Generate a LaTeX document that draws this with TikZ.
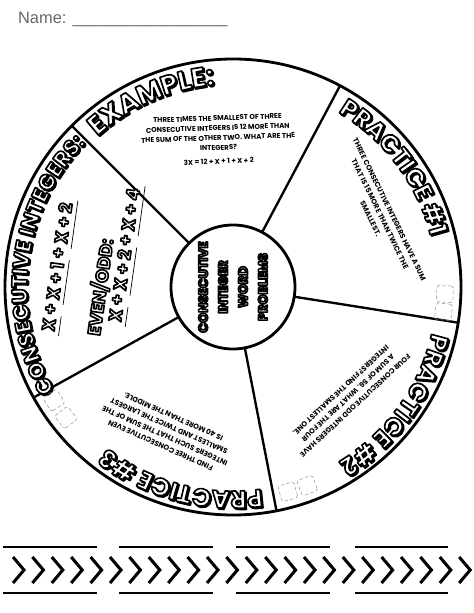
\documentclass[tikz,border=0pt]{standalone}
\usepackage{fontspec}
\setmainfont{Liberation Sans}
\newfontfamily\bubblefont{Poppins}
\usetikzlibrary{decorations.text,positioning}
% hollow letters: white fill, black stroke; shadow letters: black, thickened
\newcommand\hollow{\color{white}\special{pdf:literal direct 2 Tr 0 G 1.4 w 1 j}}
\newcommand\shadowink{\color{black}\special{pdf:literal direct 2 Tr 0 G 1.4 w 1 j}}
\newcommand\titlefont{\bubblefont\bfseries\fontsize{21}{21}\selectfont}
% font, text, from angle, to angle, radius
\newcommand\rimtitle[5]{%
  \path[shift={(1.4,-1.4)},decorate,decoration={text along path,text={|#1\shadowink|#2}}]
    (#3:#5) arc[start angle=#3,end angle=#4,radius=#5];
  \path[decorate,decoration={text along path,text={|#1\hollow|#2}}]
    (#3:#5) arc[start angle=#3,end angle=#4,radius=#5];}
\tikzset{
  rim/.style={line width=2.4pt},
  spoke/.style={line width=2pt},
  tiny/.style={font=\bubblefont\bfseries\fontsize{6}{8.4}\selectfont, align=center, inner sep=0pt},
  task/.style={font=\bubblefont\bfseries\fontsize{6.2}{9}\selectfont, align=center, inner sep=0pt},
  sum/.style={font=\bubblefont\bfseries\fontsize{15}{15}\selectfont\hollow, inner sep=1pt},
  tickbox/.style={draw=black!45, densely dashed, rounded corners=1.5pt, minimum size=14pt, inner sep=0pt},
  chev/.style={line width=2.6pt},
  band/.style={line width=1.6pt}
}
\begin{document}
\begin{tikzpicture}[x=0.03cm,y=0.03cm]
  \useasboundingbox (-233,-326) rectangle (241,287);
  % name line
  \node[anchor=west, text=black!60, font=\fontsize{14}{14}\selectfont] (name) at (-219,268)
    {Name: \_\_\_\_\_\_\_\_\_\_\_\_\_\_\_\_\_};
  % wheel
  \draw[rim] (0,0) circle (228);
  \draw[rim] (0,0) circle (62);
  \foreach \a in {135,62,-9,-79,-151}
    \draw[spoke] (\a:62) -- (\a:228);
  % titles round the rim
  \rimtitle{\bubblefont\bfseries\fontsize{18.5}{18.5}\selectfont}{CONSECUTIVE INTEGERS:}{210}{133}{206}
  \rimtitle{\bubblefont\bfseries\fontsize{23}{23}\selectfont}{EXAMPLE:}{132}{63}{203}
  \rimtitle{\titlefont}{PRACTICE {\#}1}{59}{-8}{204}
  \rimtitle{\titlefont}{PRACTICE {\#}2}{-13}{-78}{204}
  \rimtitle{\titlefont}{PRACTICE {\#}3}{-82}{-150}{204}
  % centre
  \node[rotate=90, align=center, font=\bubblefont\bfseries\fontsize{11}{17}\selectfont\hollow] (hub) at (0,0)
    {CONSECUTIVE\\INTEGER\\WORD\\PROBLEMS};
  % example
  \node[tiny, rotate=2] (extext) at (-15,154)
    {THREE TIMES THE SMALLEST OF THREE\\CONSECUTIVE INTEGERS IS 12 MORE THAN\\THE SUM OF THE OTHER TWO. WHAT ARE THE\\INTEGERS?};
  \node[tiny, rotate=2, below=8 of extext] (exeq) {3X = 12 + X + 1 + X + 2};
  % practice 1
  \node[task, rotate=-64] (pone) at (147,73)
    {THREE CONSECUTIVE INTEGERS HAVE A SUM\\THAT IS 15 MORE THAN TWICE THE\\SMALLEST.};
  % practice 2
  \node[task, rotate=-137] (ptwo) at (115,-111)
    {FOUR CONSECUTIVE ODD INTEGERS HAVE\\A SUM OF 56. WHAT ARE THE FOUR\\INTEGERS? FIND THE SMALLEST ONE.};
  % practice 3
  \node[task, rotate=156] (pthree) at (-66,-144)
    {FIND THREE CONSECUTIVE EVEN\\INTEGERS SUCH THAT THE SUM OF THE\\SMALLEST AND TWICE THE LARGEST\\IS 40 MORE THAN THE MIDDLE.};
  % boxes to tick
  \foreach \a in {-6.7,-1.9,-75,-69.5,-147.7,-142}
    \node[tickbox, rotate=\a] at (\a:212) {};
  % consecutive integers
  \begin{scope}[shift={(-178,6)}, rotate=82, transform shape, node distance=1pt]
    \node[sum] (a2) {X + 1};
    \node[sum, left=of a2] (p1) {+};
    \node[sum, left=of p1] (a1) {X};
    \node[sum, right=of a2] (p2) {+};
    \node[sum, right=of p2] (a3) {X + 2};
    \foreach \t in {a1,a2,a3}
      \draw[semithick] ([xshift=-2,yshift=-3]\t.south west) -- ([xshift=2,yshift=-3]\t.south east);
  \end{scope}
  \node[sum, rotate=82] (eo) at (-133,0) {EVEN/ODD:};
  \begin{scope}[shift={(-111,17)}, rotate=82, transform shape, node distance=1pt]
    \node[sum] (b2) {X + 2};
    \node[sum, left=of b2] (q1) {+};
    \node[sum, left=of q1] (b1) {X};
    \node[sum, right=of b2] (q2) {+};
    \node[sum, right=of q2] (b3) {X + 4};
    \foreach \t in {b1,b2,b3}
      \draw[semithick] ([xshift=-2,yshift=-3]\t.south west) -- ([xshift=2,yshift=-3]\t.south east);
  \end{scope}
  % band at the foot
  \foreach \x/\y in {-230/-136,-114/-20,3/97,122/215} {
    \draw[band] (\x,-260) -- (\y,-260);
    \draw[band] (\x,-306) -- (\y,-306);
  }
  \foreach \i in {0,...,23}
    \draw[chev] (-220+\i*19.4,-270) -- ++(11,-13) -- ++(-11,-13);
\end{tikzpicture}
\end{document}
